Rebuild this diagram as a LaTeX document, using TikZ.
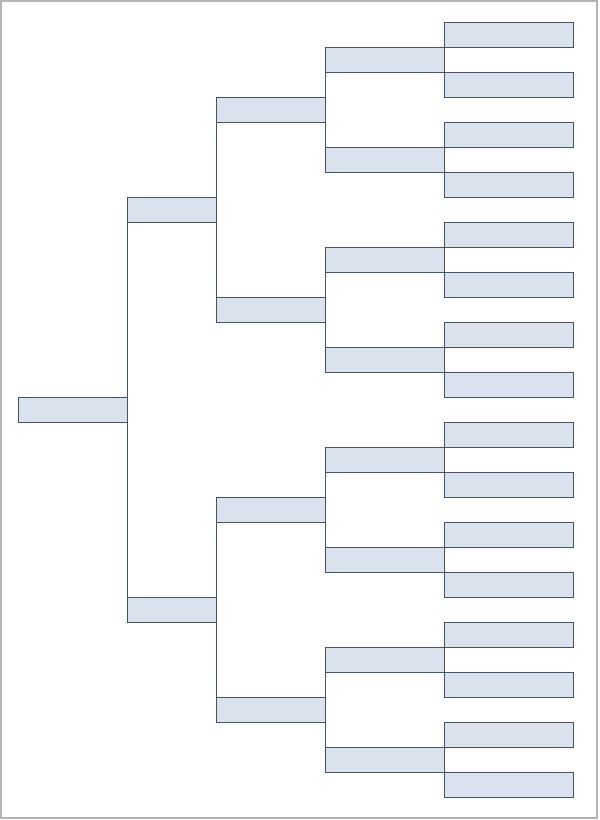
\documentclass[tikz,border=0pt]{standalone}
\usepackage{tikz}
\usetikzlibrary{positioning}
\definecolor{boxfill}{HTML}{DAE2EE}
\definecolor{boxline}{HTML}{425466}
\definecolor{framegray}{HTML}{B4B4B4}
\tikzset{
	person/.style={draw=boxline,fill=boxfill,line width=1pt,rectangle,inner sep=0pt,outer sep=0pt,minimum height=25pt},
	link/.style={boxline,line width=1pt}
}
\begin{document}
\begin{tikzpicture}[x=1pt,y=-1pt]
	\useasboundingbox (0,0) rectangle (600,820);
	\draw[framegray,line width=1.5pt] (1,1) rectangle (597,818);
	% great-great-grandparents
	\foreach \k in {0,...,15}
	\node[person,minimum width=129pt] (gg\k) at (508.5,34.5+50*\k) {};
	% great-grandparents
	\foreach \k in {0,...,7}
	\node[person,minimum width=119pt] (g\k) at (384.5,59.5+100*\k) {};
	% grandparents
	\foreach \k in {0,...,3}
	\node[person,minimum width=109pt] (p\k) at (270.5,109.5+200*\k) {};
	% parents
	\foreach \k in {0,1}
	\node[person,minimum width=89pt] (m\k) at (171.5,209.5+400*\k) {};
	\node[person,minimum width=109pt] (me) at (72.5,409.5) {};
	% brackets
	\foreach \k in {0,...,7}{
		\pgfmathtruncatemacro{\a}{2*\k}
		\pgfmathtruncatemacro{\b}{2*\k+1}
		\draw[link] (gg\a.north west) -- (gg\b.south west);
	}
	\foreach \k in {0,...,3}{
		\pgfmathtruncatemacro{\a}{2*\k}
		\pgfmathtruncatemacro{\b}{2*\k+1}
		\draw[link] (g\a.north west) -- (g\b.south west);
	}
	\draw[link] (p0.north west) -- (p1.south west);
	\draw[link] (p2.north west) -- (p3.south west);
	\draw[link] (m0.north west) -- (m1.south west);
\end{tikzpicture}
\end{document}
